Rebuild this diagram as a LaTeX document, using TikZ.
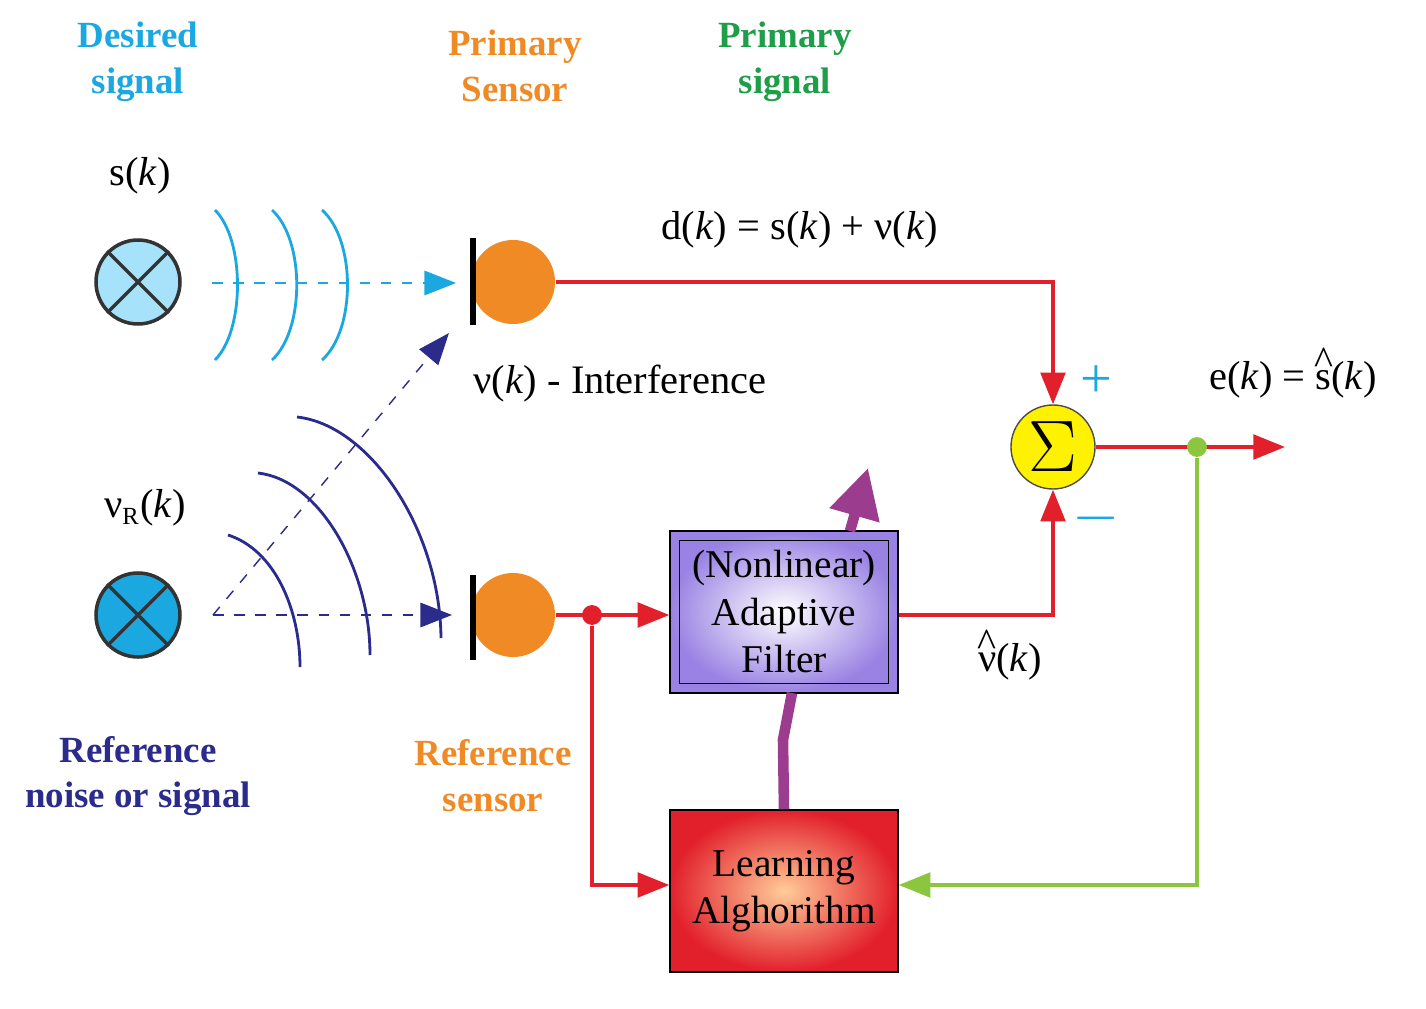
\documentclass[tikz,border=0pt]{standalone}
\usepackage{fontspec}
\setmainfont{Liberation Serif}
\usetikzlibrary{arrows.meta}
\definecolor{cyanc}{HTML}{1BA7E0}
\definecolor{navy}{HTML}{2B2B8C}
\definecolor{orng}{HTML}{F08A24}
\definecolor{grn}{HTML}{1E9E48}
\definecolor{redc}{HTML}{E2202C}
\definecolor{lgrn}{HTML}{8CC63F}
\definecolor{purp}{HTML}{9B3C8E}
\newcommand{\hatted}[1]{{\ooalign{#1\cr\hidewidth\raisebox{0.8ex}{\^{}}\hidewidth\cr}}}
\newlength{\pxu}\setlength{\pxu}{0.01cm}
\tikzset{
 lbl/.style={font=\fontsize{11.5}{13}\selectfont},
 ttl/.style={font=\fontsize{10.5}{13}\selectfont\bfseries,align=center},
 src/.style={circle,draw=black!80,line width=1pt,minimum size=84\pxu},
 sens/.style={circle,fill=orng,minimum size=84\pxu},
 sig/.style={color=redc,line width=1pt},
 tri/.style={-{Triangle[length=9pt,width=7pt]}},
 box/.style={draw=black,minimum width=228\pxu,minimum height=162\pxu,align=center,font=\fontsize{11.2}{13.5}\selectfont}
}
\begin{document}
\begin{tikzpicture}[x=0.01cm,y=-0.01cm]
\useasboundingbox (0,0) rectangle (1426,1009);
% titles
\node[ttl,text=cyanc] at (138,62) {Desired\\signal};
\node[ttl,text=orng] at (515,66) {Primary\\Sensor};
\node[ttl,text=grn] at (785,62) {Primary\\signal};
\node[ttl,text=navy] at (138,776) {Reference\\noise or signal};
\node[ttl,text=orng] at (493,776) {Reference\\sensor};
% sources
\node[lbl] (sl) at (140,176) {s(\textit{k})};
\node[src,fill=cyan!35] (s1) at (138,282) {};
\draw[black!80,line width=1pt] (s1.45)--(s1.225) (s1.135)--(s1.315);
\node[lbl] (vl) at (145,508) {ν\textsubscript{\scriptsize R}(\textit{k})};
\node[src,fill=cyanc] (s2) at (138,615) {};
\draw[black!80,line width=1pt] (s2.45)--(s2.225) (s2.135)--(s2.315);
% top waves
\draw[cyanc,line width=0.8pt] (215,210) .. controls (245,240) and (245,330) .. (215,360);
\draw[cyanc,line width=0.8pt] (272,210) .. controls (305,240) and (305,330) .. (272,360);
\draw[cyanc,line width=0.8pt] (322,210) .. controls (356,240) and (356,330) .. (322,360);
% bottom waves
\draw[navy,line width=0.8pt] (228,535) .. controls (275,550) and (300,610) .. (300,667);
\draw[navy,line width=0.8pt] (258,473) .. controls (320,480) and (370,570) .. (370,655);
\draw[navy,line width=0.8pt] (297,417) .. controls (370,425) and (440,530) .. (441,638);
% sensors
\node[sens] (p1) at (513,282) {};
\node[sens] (p2) at (513,615) {};
\draw[black,line width=1.5pt] (473,238)--(473,325);
\draw[black,line width=1.5pt] (473,575)--(473,660);
\coordinate (a0) at (212,283); \coordinate (a1) at (456,283);
\draw[cyanc,dashed,tri] (a0)--(a1);
\coordinate (b0) at (213,615); \coordinate (b1) at (452,615); \coordinate (b2) at (449,333);
\draw[navy,dashed,tri] (b0)--(b1);
\draw[navy,dashed,tri] (b0)--(b2);
% sum
\node[circle,fill=yellow,draw=black!70,minimum size=84\pxu,font=\fontsize{22}{24}\selectfont,inner sep=0pt] (sum) at (1053,447) {$\Sigma$};
\node[font=\fontsize{16}{16}\selectfont,text=cyanc] at (1096,382) {+};
\node[font=\fontsize{16}{16}\selectfont,text=cyanc] at (1096,518) {$-$};
% boxes
\node[box,inner color=white,outer color=purp!45!blue!55] (af) at (784,612) {(Nonlinear)\\Adaptive\\Filter};
\draw[black] ([shift={(10,10)}]af.north west) rectangle ([shift={(-10,-10)}]af.south east);
\node[box,inner color=orange!40!white,outer color=redc] (la) at (784,891) {Learning\\Alghorithm};
% signal lines
\draw[sig,tri] (p1.east) -- (1053,282) -- (sum.north);
\coordinate (oe) at (1285,447);
\draw[sig,tri] (sum.east) -- (oe);
\node[circle,fill=lgrn,inner sep=2pt] (dg) at (1197,447) {};
\draw[lgrn,line width=1pt,tri] (dg) -- (1197,885) -- (la.east|-0,885);
\draw[sig,tri] (p2.east) -- (af.west|-p2);
\node[circle,fill=redc,inner sep=2pt] (dr) at (592,615) {};
\draw[sig,tri] (dr) -- (592,885) -- (la.west|-0,885);
\draw[sig,tri] (af.east|-p2) -- (1053,615) -- (sum.south);
% purple
\draw[purp,line width=3pt] (la.north) -- (783,740) -- (792,693);
\coordinate (pa) at (868,468);
\draw[purp,line width=3pt,-{Triangle[length=14pt,width=14pt]}] (850,531) -- (pa);
% labels
\node[lbl] at (800,230) {d(\textit{k}) = s(\textit{k}) + ν(\textit{k})};
\node[lbl] at (620,384) {ν(\textit{k}) - Interference};
\node[lbl] at (1010,662) {\hatted{ν}(\textit{k})};
\node[lbl] at (1293,380) {e(\textit{k}) = \hatted{s}(\textit{k})};
\end{tikzpicture}
\end{document}
